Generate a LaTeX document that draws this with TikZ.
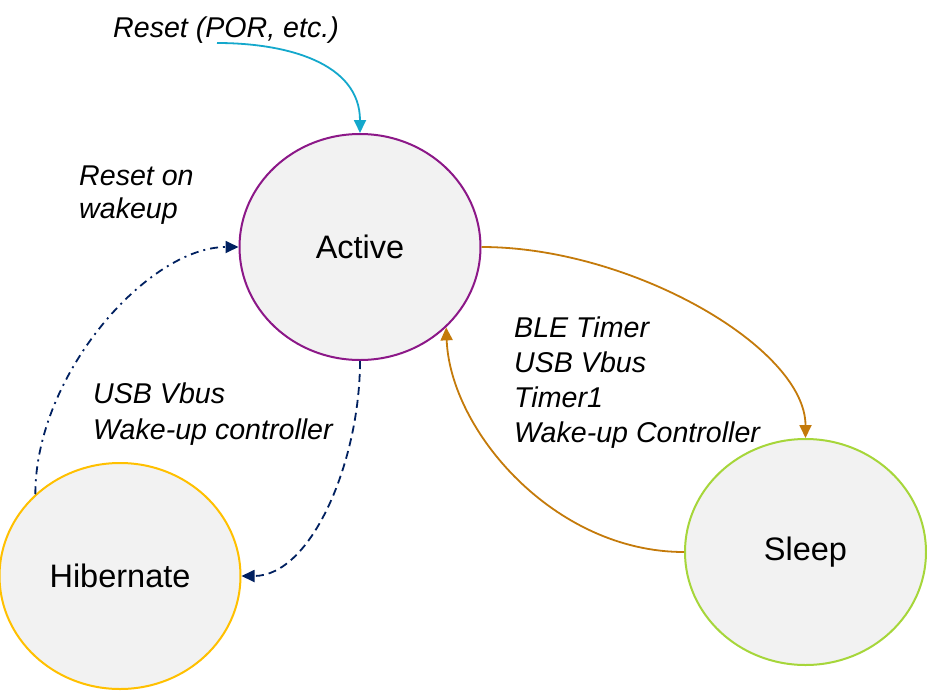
\documentclass[tikz,border=0pt]{standalone}
\usepackage{fontspec}
\setmainfont{Liberation Sans}
\usetikzlibrary{shapes.geometric,arrows.meta}
\definecolor{actcol}{RGB}{140,24,136}
\definecolor{hibcol}{RGB}{255,192,0}
\definecolor{slpcol}{RGB}{166,214,58}
\definecolor{statefill}{RGB}{242,242,242}
\definecolor{navyc}{RGB}{0,32,96}
\definecolor{orngc}{RGB}{196,122,10}
\definecolor{cyanc}{RGB}{20,168,204}
\begin{document}
\begin{tikzpicture}[x=1pt,y=-1pt,
  state/.style={ellipse, draw, line width=2pt, fill=statefill,
    minimum width=241pt, minimum height=226pt, inner sep=0pt,
    font=\fontsize{32.5}{39}\selectfont},
  lbl/.style={align=left, inner sep=0pt, anchor=base west,
    font=\fontsize{28.6}{35}\selectfont\itshape},
  conn/.style={line width=1.8pt, -{Triangle[length=13pt,width=12pt]}},
  dashdot/.style={dash pattern=on 8pt off 5pt on 2pt off 5pt},
  dashline/.style={dash pattern=on 8pt off 5pt},
]
\useasboundingbox (0,0) rectangle (927,691);
\fill[white] (0,0) rectangle (927,691);

\node[state, draw=actcol] (act) at (360,247) {Active};
\node[state, draw=hibcol] (hib) at (120,576) {Hibernate};
\node[state, draw=slpcol] (slp) at (805.5,552) {Sleep};

\coordinate (rs) at (217,43);
\draw[conn, cyanc] (rs) .. controls +(70,0) and +(0,-70) .. (act.north);
\draw[conn, navyc, dashdot] (hib.136) .. controls +(0,-120) and +(-90,0) .. (act.west);
\draw[conn, navyc, dashline] (act.south) .. controls +(0,100) and +(70,0) .. (hib.east);
\draw[conn, orngc] (act.east) .. controls +(150,0) and +(0,-90) .. (slp.north);
\draw[conn, orngc] (slp.west) .. controls +(-130,0) and +(4,103) .. (act.-43);

\node[lbl] (lreset) at (113,37) {Reset (POR, etc.)};
\node[lbl, font=\fontsize{28.6}{33}\selectfont\itshape] (lwake) at (79,218) {Reset on\\wakeup};
\node[lbl, font=\fontsize{28.6}{36}\selectfont\itshape] (lhib) at (93,439) {USB Vbus\\Wake-up controller};
\node[lbl] (lslp) at (514,442) {BLE Timer\\USB Vbus\\Timer1\\Wake-up Controller};
\end{tikzpicture}
\end{document}
